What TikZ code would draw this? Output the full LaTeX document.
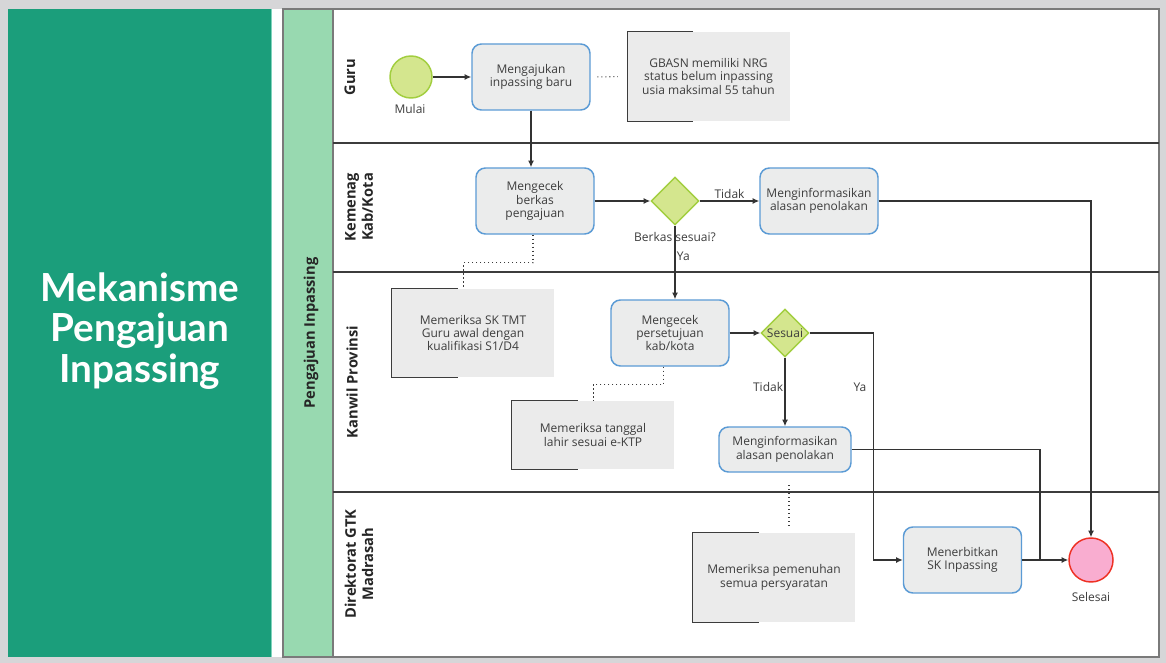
\documentclass[tikz,border=0pt]{standalone}
\usepackage{fontspec}
\setmainfont{Open Sans}
\newfontfamily\titlefont{Lato}
\usetikzlibrary{shapes.geometric,arrows.meta}

\definecolor{bggrey}{HTML}{D6D6D8}
\definecolor{panelteal}{HTML}{1B9E7B}
\definecolor{stripteal}{HTML}{7FD3BC}
\definecolor{poolgreen}{HTML}{98D9B0}
\definecolor{poolline}{HTML}{7A7A7A}
\definecolor{laneline}{HTML}{3C3C3C}
\definecolor{taskblue}{HTML}{5B9BD5}
\definecolor{taskfill}{HTML}{EBECEC}
\definecolor{annotfill}{HTML}{EBEBEB}
\definecolor{gwfill}{HTML}{D4E68E}
\definecolor{gwline}{HTML}{A2CE3F}
\definecolor{endfill}{HTML}{F9ADD0}
\definecolor{endline}{HTML}{EE3124}
\definecolor{txtgrey}{HTML}{3D3D3D}
\definecolor{arrowgrey}{HTML}{333333}

\begin{document}
\begin{tikzpicture}[x=0.75pt, y=-0.75pt,
    font=\fontsize{9}{10}\selectfont, text=txtgrey,
    task/.style={draw=taskblue, line width=1.1pt, fill=taskfill,
        rounded corners=7pt, align=center, inner sep=2pt,
        minimum width=88.5pt, minimum height=49.5pt},
    annot/.style={fill=annotfill, align=center, inner sep=2pt,
        minimum width=121.5pt},
    bracket/.style={draw=laneline, line width=0.9pt},
    gateway/.style={diamond, draw=gwline, line width=1.1pt, fill=gwfill,
        minimum size=36pt, inner sep=0pt},
    startev/.style={circle, draw=gwline, line width=1.1pt, fill=gwfill,
        minimum size=31.5pt, inner sep=0pt},
    endev/.style={circle, draw=endline, line width=1.1pt, fill=endfill,
        minimum size=33pt, inner sep=0pt},
    lbl/.style={inner sep=1pt, text=txtgrey},
    lanelbl/.style={rotate=90, align=center, text=black!85,
        font=\fontsize{11}{13}\selectfont\bfseries},
    flow/.style={draw=arrowgrey, line width=0.9pt,
        -{Latex[length=5pt,width=4.5pt]}},
    flowplain/.style={draw=arrowgrey, line width=0.9pt},
    assoc/.style={draw=laneline, line width=0.8pt,
        dash pattern=on 0.8pt off 2.2pt}]

    % latar dan panel judul
    \fill[bggrey] (0,0) rectangle (1166,663);
    \fill[panelteal] (8,9) rectangle (271,657);
    \fill[white] (271,9) rectangle (283,657);
    \draw[stripteal, line width=0.8pt] (271.5,9) -- (271.5,657);
    \node[align=center, text=white,
        font=\titlefont\fontsize{29}{30.5}\selectfont\bfseries]
        (judul) at (140,331) {Mekanisme\\Pengajuan\\Inpassing};

    % pool dan lane
    \fill[white] (283,9) rectangle (1159,657);
    \fill[poolgreen] (283,9) rectangle (333,657);
    \draw[poolline, line width=0.9pt] (283,9) rectangle (1159,657);
    \draw[poolline, line width=0.9pt] (333,9) -- (333,657);
    \foreach \y in {143,272,492} {
        \draw[laneline, line width=1.1pt] (333,\y) -- (1159,\y);
    }

    % label lane
    \node[lanelbl] (lpool) at (311,333) {Pengajuan Inpassing};
    \node[lanelbl] (lguru) at (350,77) {Guru};
    \node[lanelbl] (lkab) at (359,207) {Kemenag\\Kab/Kota};
    \node[lanelbl] (lkanwil) at (352,382) {Kanwil Provinsi};
    \node[lanelbl] (ldit) at (359,564) {Direktorat GTK\\Madrasah};

    % lane Guru
    \node[startev] (mulai) at (411,77) {};
    \node[lbl] (tmulai) at (410,109) {Mulai};
    \node[task] (ajukan) at (531,77) {Mengajukan\\inpassing baru};
    \node[annot, minimum height=66.75pt] (an1) at (708.5,76.5)
        {GBASN memiliki NRG\\status belum inpassing\\usia maksimal 55 tahun};

    % lane Kemenag Kab/Kota
    \node[task] (cekberkas) at (535,201) {Mengecek\\berkas\\pengajuan};
    \node[gateway] (gw1) at (675,201) {};
    \node[lbl] (tgw1) at (675,237) {Berkas sesuai?};
    \node[task] (info1) at (819,201) {Menginformasikan\\alasan penolakan};

    % lane Kanwil Provinsi
    \node[annot, minimum height=66pt] (an2) at (473,333)
        {Memeriksa SK TMT\\Guru awal dengan\\kualifikasi S1/D4};
    \node[task] (cekkab) at (670,333) {Mengecek\\persetujuan\\kab/kota};
    \node[gateway] (gw2) at (785,333) {};
    \node[lbl] (tgw2) at (785,333) {Sesuai};
    \node[annot, minimum height=51pt] (an3) at (593,435)
        {Memeriksa tanggal\\lahir sesuai e-KTP};
    \node[task, minimum width=99pt, minimum height=33.75pt] (info2)
        at (785,449.5) {Menginformasikan\\alasan penolakan};

    % lane Direktorat GTK Madrasah
    \node[annot, minimum height=66.75pt] (an4) at (774,577.5)
        {Memeriksa pemenuhan\\semua persyaratan};
    \node[task] (terbit) at (962.5,560) {Menerbitkan\\SK Inpassing};
    \node[endev] (selesai) at (1091,560) {};
    \node[lbl] (tselesai) at (1091,597) {Selesai};

    % kurung anotasi
    \foreach \n in {an1,an2,an3,an4} {
        \draw[bracket] ([xshift=49.5pt]\n.north west) -- (\n.north west)
            -- (\n.south west) -- ([xshift=49.5pt]\n.south west);
    }

    % alur
    \draw[flow] (mulai) -- (ajukan);
    \draw[flow] (ajukan.south) -- (ajukan.south |- cekberkas.north);
    \draw[flow] (cekberkas) -- (gw1);
    \draw[flow] (gw1) -- node[lbl, above] {Tidak} (info1);
    \draw[flow] (info1.east) -| (selesai.north);
    \draw[flow] (gw1.south) -- node[lbl, right, pos=0.42] {Ya}
        (gw1.south |- cekkab.north);
    \draw[flow] (cekkab) -- (gw2);
    \draw[flow] (gw2.east) -- ++(64,0) |- (terbit.west);
    \node[lbl] (tya2) at (860,387) {Ya};
    \draw[flow] (gw2) -- node[lbl, left, pos=0.42] {Tidak} (info2);
    \draw[flow] (terbit) -- (selesai);
    \coordinate (gabung) at (1040,560);
    \draw[flowplain] (info2.east) -| (gabung);

    % asosiasi anotasi
    \draw[assoc, shorten <=5pt, shorten >=7pt] (ajukan.east) -- (an1.west);
    \draw[assoc] ([xshift=-1.5pt]cekberkas.south) -- ++(0,28)
        -| ([xshift=54pt]an2.north west);
    \draw[assoc] ([xshift=-5pt]cekkab.south) -- ++(0,18)
        -| ([xshift=61pt]an3.north west);
    \coordinate (d6) at (789,485);
    \draw[assoc, shorten >=4pt] (d6) -- (d6 |- an4.north);

\end{tikzpicture}
\end{document}
